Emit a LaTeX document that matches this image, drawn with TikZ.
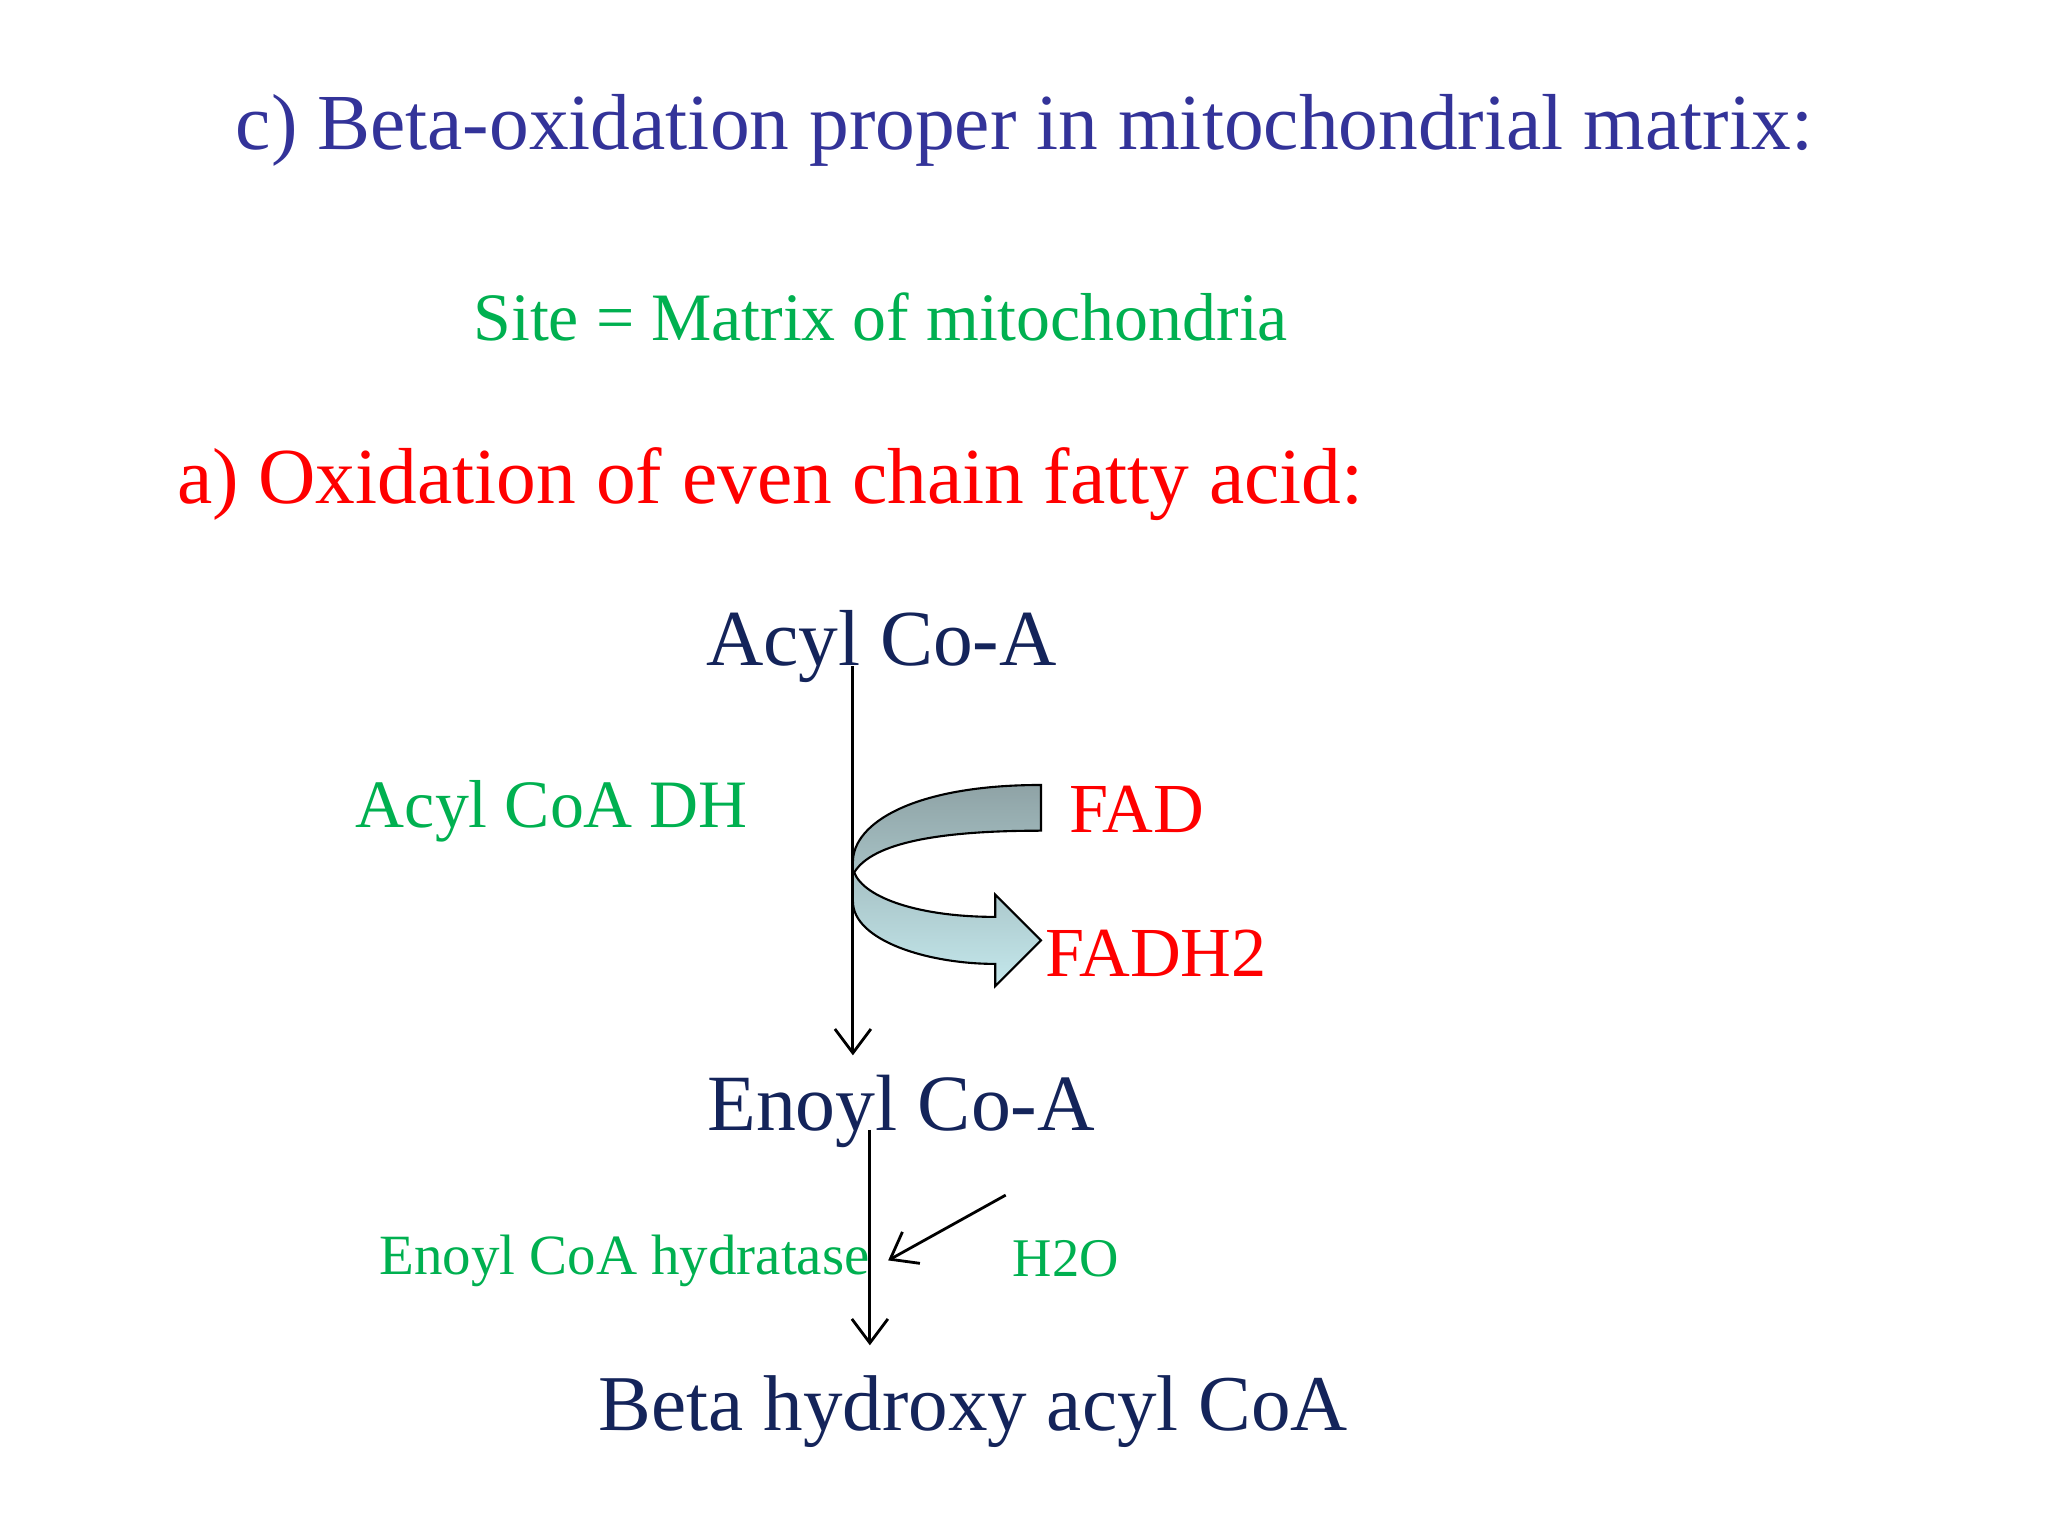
\documentclass[tikz,border=0pt]{standalone}
\usepackage{fontspec}
\usetikzlibrary{arrows.meta}
\setmainfont{Liberation Serif}
\definecolor{ttl}{HTML}{333399}
\definecolor{grn}{HTML}{00B050}
\definecolor{rd}{HTML}{FF0000}
\definecolor{nv}{HTML}{14245A}
\definecolor{shtop}{HTML}{8FA3A6}
\definecolor{shbot}{HTML}{C4E8EC}
\begin{document}
\begin{tikzpicture}[x=0.01306cm,y=-0.01306cm,
  lbl/.style={inner sep=0pt,anchor=west},
  rxn/.style={-{Straight Barb[length=2.4mm,width=3.6mm]},line width=0.8pt}]
\useasboundingbox (0,0) rectangle (1568,1176);
\node[lbl,text=ttl,font=\fontsize{22.6}{26}\selectfont] (title) at (180,100) {c) Beta-oxidation proper in mitochondrial matrix:};
\node[lbl,text=grn,font=\fontsize{19.3}{22}\selectfont] (site) at (362,243) {Site = Matrix of mitochondria};
\node[lbl,text=rd,font=\fontsize{22.6}{26}\selectfont] (even) at (135,371) {a) Oxidation of even chain fatty acid:};
\node[lbl,text=nv,font=\fontsize{22.6}{26}\selectfont] (acyl) at (540,495) {Acyl Co-A};
\node[lbl,text=grn,font=\fontsize{19.3}{24}\selectfont] (dh) at (272,621) {Acyl CoA DH};
\node[lbl,text=rd,font=\fontsize{20}{24}\selectfont] (fad) at (818,620) {FAD};
\node[lbl,text=rd,font=\fontsize{20}{24}\selectfont] (fadh) at (800,730) {FADH2};
\node[lbl,text=nv,font=\fontsize{22.7}{26}\selectfont] (enoyl) at (541,851) {Enoyl Co-A};
\node[lbl,text=grn,font=\fontsize{16.2}{18}\selectfont] (hyd) at (290,965) {Enoyl CoA hydratase};
\node[lbl,text=grn,font=\fontsize{15.5}{18}\selectfont] (h2o) at (775,964) {H2O};
\node[lbl,text=nv,font=\fontsize{22.5}{26}\selectfont] (beta) at (458,1081) {Beta hydroxy acyl CoA};
\coordinate (a1) at (653,510); \coordinate (a2) at (653,808);
\coordinate (b1) at (666,865); \coordinate (b2) at (666,1030);
\coordinate (w1) at (770,915); \coordinate (w2) at (680,965);
\draw[shade,top color=shtop,bottom color=shbot,line width=0.6pt]
 (797,601) .. controls (700,601) and (653,630) .. (653,660) -- (653,690)
 .. controls (653,720) and (710,738) .. (762,738) -- (762,755) -- (797,720) -- (762,685) -- (762,702)
 .. controls (705,702) and (662,688) .. (654,668)
 .. controls (668,645) and (720,636) .. (797,636) -- cycle;
\draw[rxn] (a1) -- (a2);
\draw[rxn] (b1) -- (b2);
\draw[rxn] (w1) -- (w2);
\end{tikzpicture}
\end{document}
